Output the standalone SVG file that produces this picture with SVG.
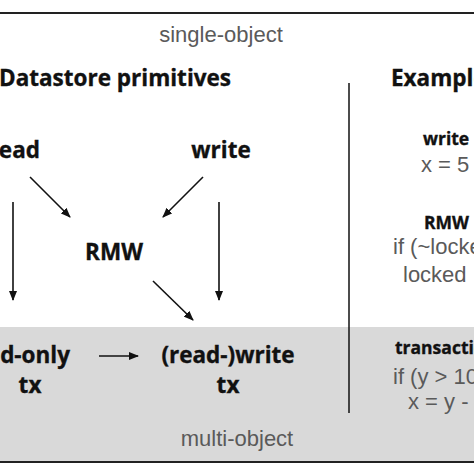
<svg xmlns="http://www.w3.org/2000/svg" width="474" height="474" viewBox="0 0 474 474">
<style>
.bold{font-family:"Open Sans","Liberation Sans",sans-serif;font-weight:700;fill:#111;stroke:#111;stroke-width:0.35}
.big{font-size:22.5px}
.small{font-size:17.5px}
.gray{font-family:"Liberation Sans",Arial,sans-serif;fill:#5a5a5a;font-size:22px}
.conn{stroke:#111;stroke-width:1.6;fill:none;marker-end:url(#ah)}
</style>
<defs>
<marker id="ah" viewBox="0 0 10 8" refX="9" refY="4" markerWidth="10" markerHeight="8" markerUnits="userSpaceOnUse" orient="auto">
<path d="M0,0 L10,4 L0,8 z" fill="#111"/>
</marker>
</defs>
<rect width="474" height="474" fill="#fff"/>
<rect id="multi-band" x="0" y="327" width="474" height="135" fill="#d9d9d9"/>
<line x1="0" y1="13" x2="474" y2="13" stroke="#222" stroke-width="2"/>
<line x1="0" y1="462" x2="474" y2="462" stroke="#222" stroke-width="2"/>
<line x1="349" y1="83" x2="349" y2="413" stroke="#111" stroke-width="1.5"/>
<text class="gray" x="221" y="42" text-anchor="middle">single-object</text>
<text class="gray" x="237" y="446" text-anchor="middle">multi-object</text>
<text class="bold big" x="-1" y="86">Datastore primitives</text>
<text class="bold big" x="391" y="86">Examples</text>
<g id="read"><text class="bold big" x="40" y="158" text-anchor="end">read</text></g>
<g id="write"><text class="bold big" x="221" y="158" text-anchor="middle">write</text></g>
<g id="rmw"><text class="bold big" x="114" y="260" text-anchor="middle">RMW</text></g>
<g id="readonly-tx"><text class="bold big" x="70" y="363" text-anchor="end">read-only</text><text class="bold big" x="30" y="393" text-anchor="middle">tx</text></g>
<g id="readwrite-tx"><text class="bold big" x="228" y="363" text-anchor="middle">(read-)write</text><text class="bold big" x="228" y="393" text-anchor="middle">tx</text></g>
<g id="ex-write"><text class="bold small" x="423" y="145">write</text><text class="gray" x="421" y="172">x = 5</text></g>
<g id="ex-rmw"><text class="bold small" x="424" y="229">RMW</text><text class="gray" x="393" y="254">if (~locked</text><text class="gray" x="403" y="282">locked</text></g>
<g id="ex-tx"><text class="bold small" x="395" y="354">transaction</text><text class="gray" x="393" y="384">if (y &gt; 10</text><text class="gray" x="408" y="409">x = y -</text></g>
<g id="connectors">
<line class="conn" x1="30" y1="177" x2="70" y2="217"/>
<line class="conn" x1="203" y1="177" x2="163" y2="217"/>
<line class="conn" x1="13" y1="202" x2="13" y2="300"/>
<line class="conn" x1="219" y1="202" x2="219" y2="300"/>
<line class="conn" x1="153" y1="281" x2="193" y2="320"/>
<line class="conn" x1="99" y1="356" x2="138" y2="356"/>
</g>
</svg>
